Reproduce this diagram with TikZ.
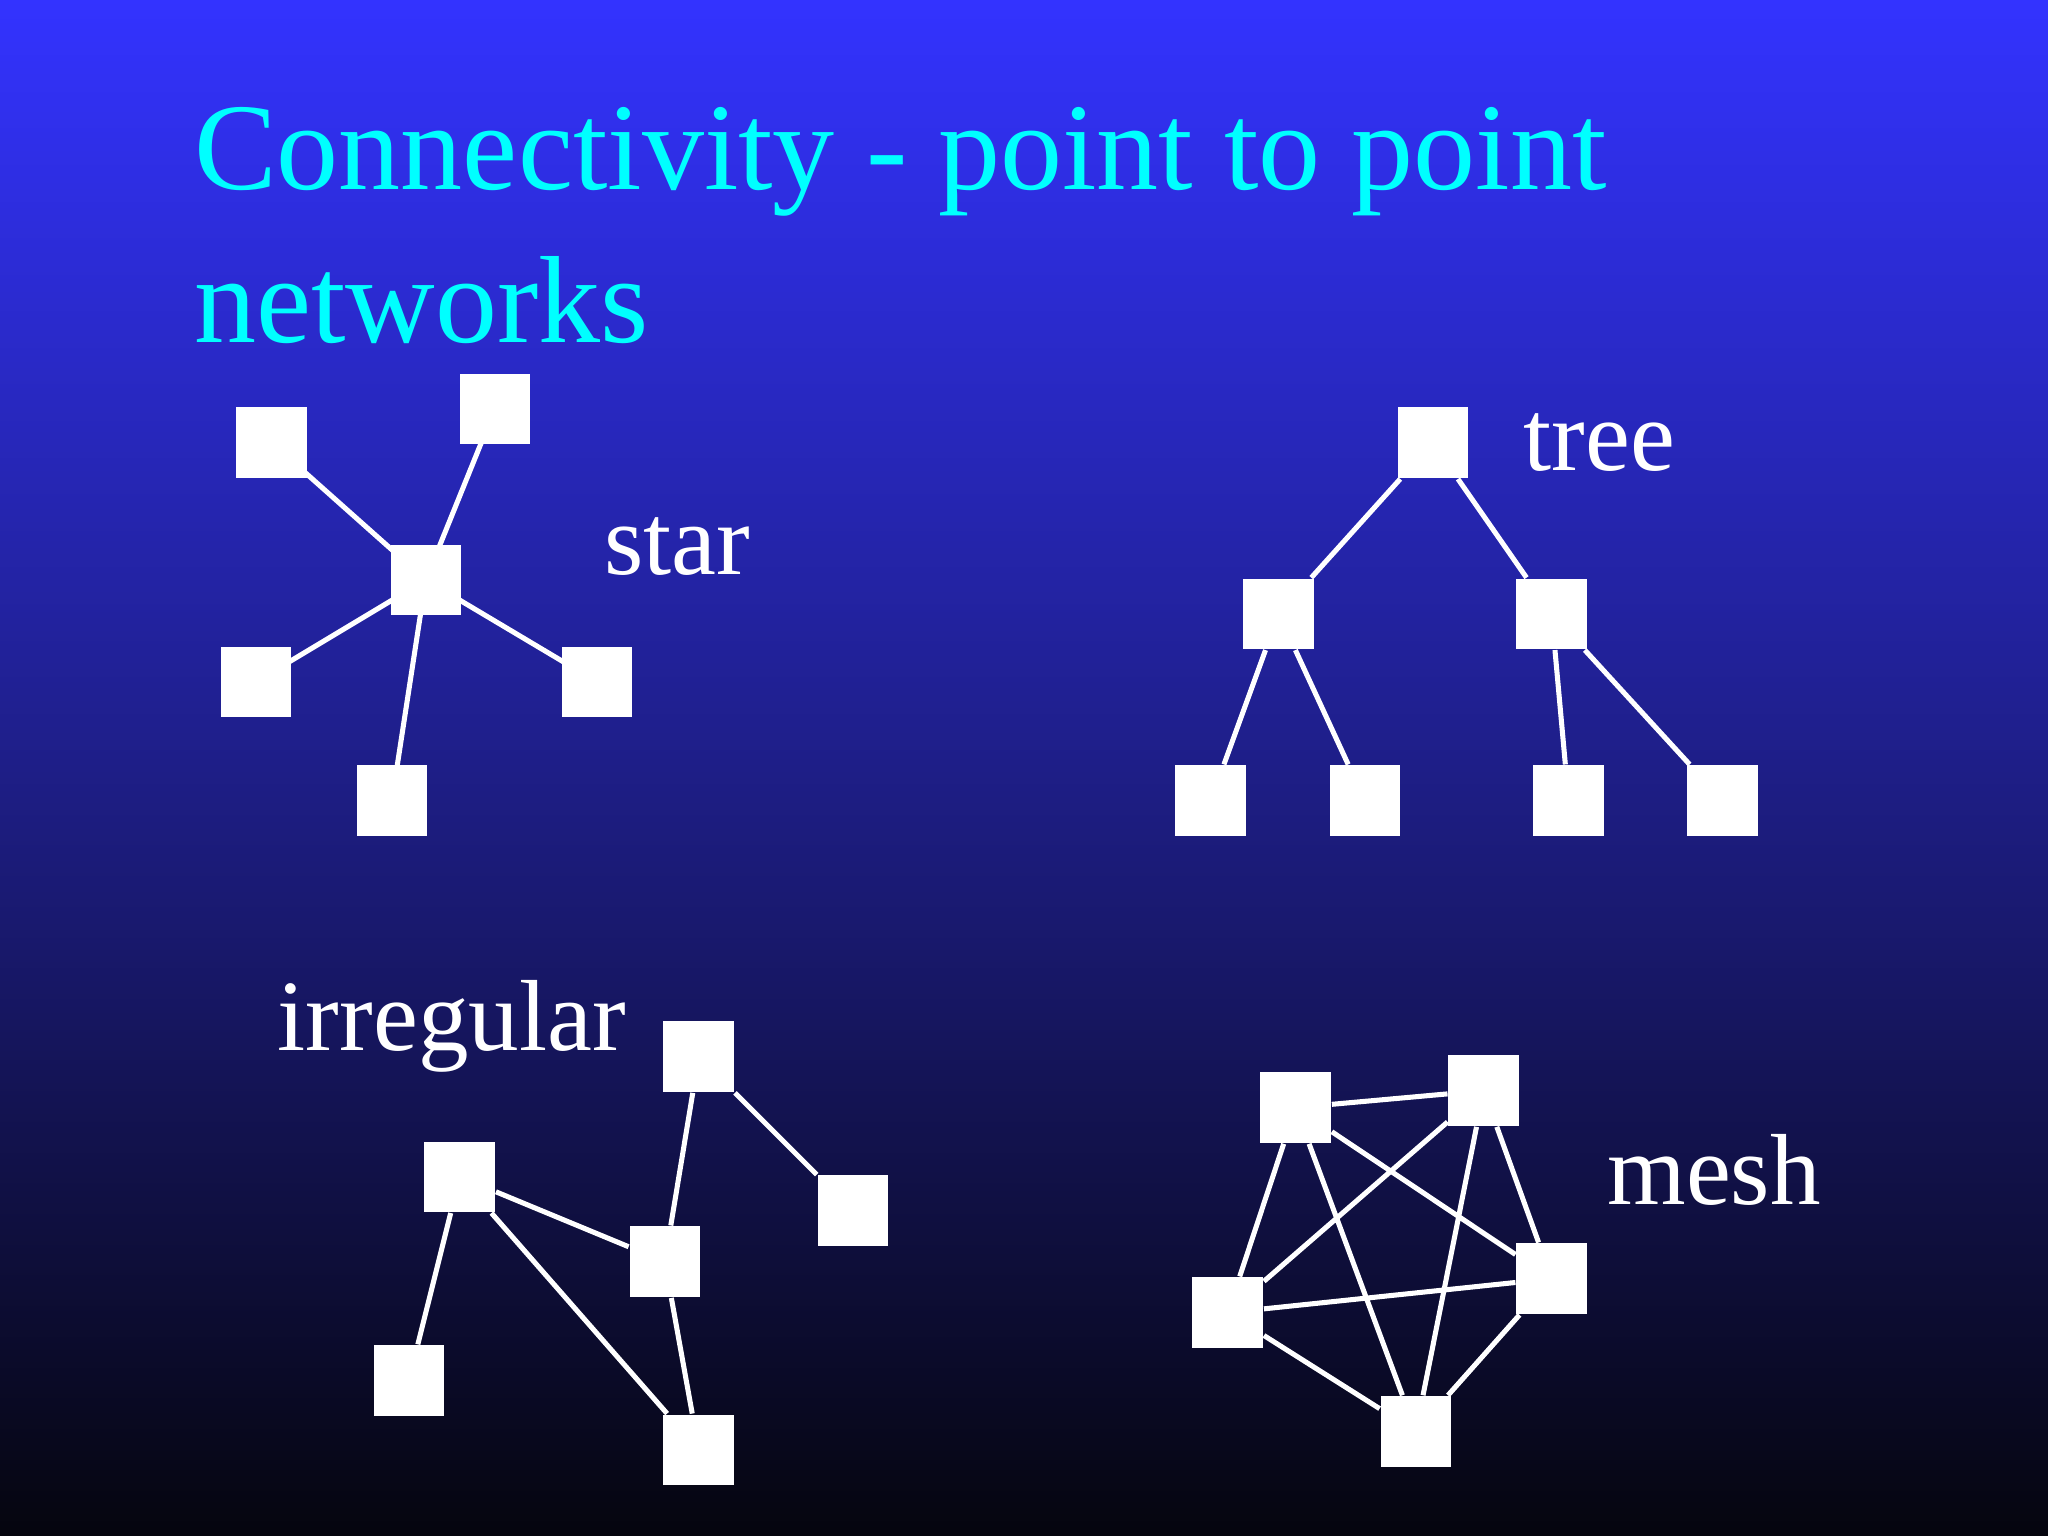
\documentclass[tikz,border=0pt]{standalone}
\usepackage{fontspec}
\setmainfont{Liberation Serif}
\begin{document}
\begin{tikzpicture}[x=0.01cm,y=-0.01cm,
  box/.style={fill=white,draw=none,minimum size=0.54cm,inner sep=0pt},
  link/.style={white,line width=1.1pt},
  lbl/.style={white,font=\fontsize{22}{24}\selectfont,anchor=base west,inner sep=0pt}]
\shade[top color={rgb,255:red,51;green,51;blue,255},bottom color={rgb,255:red,5;green,5;blue,14},middle color={rgb,255:red,30;green,30;blue,135}] (0,0) rectangle (1568,1176);
\useasboundingbox (0,0) rectangle (1568,1176);
\node[anchor=base west,inner sep=0pt,text={rgb,255:red,0;green,255;blue,255},font=\fontsize{27}{30}\selectfont,align=left] (title) at (148,145) {Connectivity - point to point};
\node[anchor=base west,inner sep=0pt,text={rgb,255:red,0;green,255;blue,255},font=\fontsize{27}{30}\selectfont] (title2) at (148,262) {networks};
% star
\node[box] (sc) at (326,444) {};
\node[box] (s1) at (208,339) {};
\node[box] (s2) at (379,313) {};
\node[box] (s3) at (196,522) {};
\node[box] (s4) at (457,522) {};
\node[box] (s5) at (300,613) {};
\foreach \n in {s1,s2,s3,s4,s5} \draw[link] (sc.center) -- (\n.center);
\foreach \n in {sc,s1,s2,s3,s4,s5} \node[box] at (\n) {};
\node[lbl] (ls) at (462,440) {star};
% tree
\node[box] (t0) at (1097,339) {};
\node[box] (t1) at (979,470) {};
\node[box] (t2) at (1188,470) {};
\node[box] (t3) at (927,613) {};
\node[box] (t4) at (1045,613) {};
\node[box] (t5) at (1201,613) {};
\node[box] (t6) at (1319,613) {};
\draw[link] (t0)--(t1) (t0)--(t2) (t1)--(t3) (t1)--(t4) (t2)--(t5) (t2)--(t6);
\node[lbl] (lt) at (1166,360) {tree};
% irregular
\node[box] (i1) at (535,809) {};
\node[box] (i2) at (352,901) {};
\node[box] (i3) at (653,927) {};
\node[box] (i4) at (509,966) {};
\node[box] (i5) at (313,1057) {};
\node[box] (i6) at (535,1110) {};
\draw[link] (i1)--(i4) (i1)--(i3) (i2)--(i4) (i2)--(i5) (i2)--(i6) (i4)--(i6);
\node[lbl] (li) at (212,804) {irregular};
% mesh
\node[box] (m1) at (992,848) {};
\node[box] (m2) at (1136,835) {};
\node[box] (m3) at (1188,979) {};
\node[box] (m4) at (940,1005) {};
\node[box] (m5) at (1084,1096) {};
\draw[link] (m1)--(m2) (m1)--(m3) (m1)--(m4) (m1)--(m5) (m2)--(m3) (m2)--(m4) (m2)--(m5) (m3)--(m4) (m3)--(m5) (m4)--(m5);
\node[lbl] (lm) at (1230,922) {mesh};
\end{tikzpicture}
\end{document}
